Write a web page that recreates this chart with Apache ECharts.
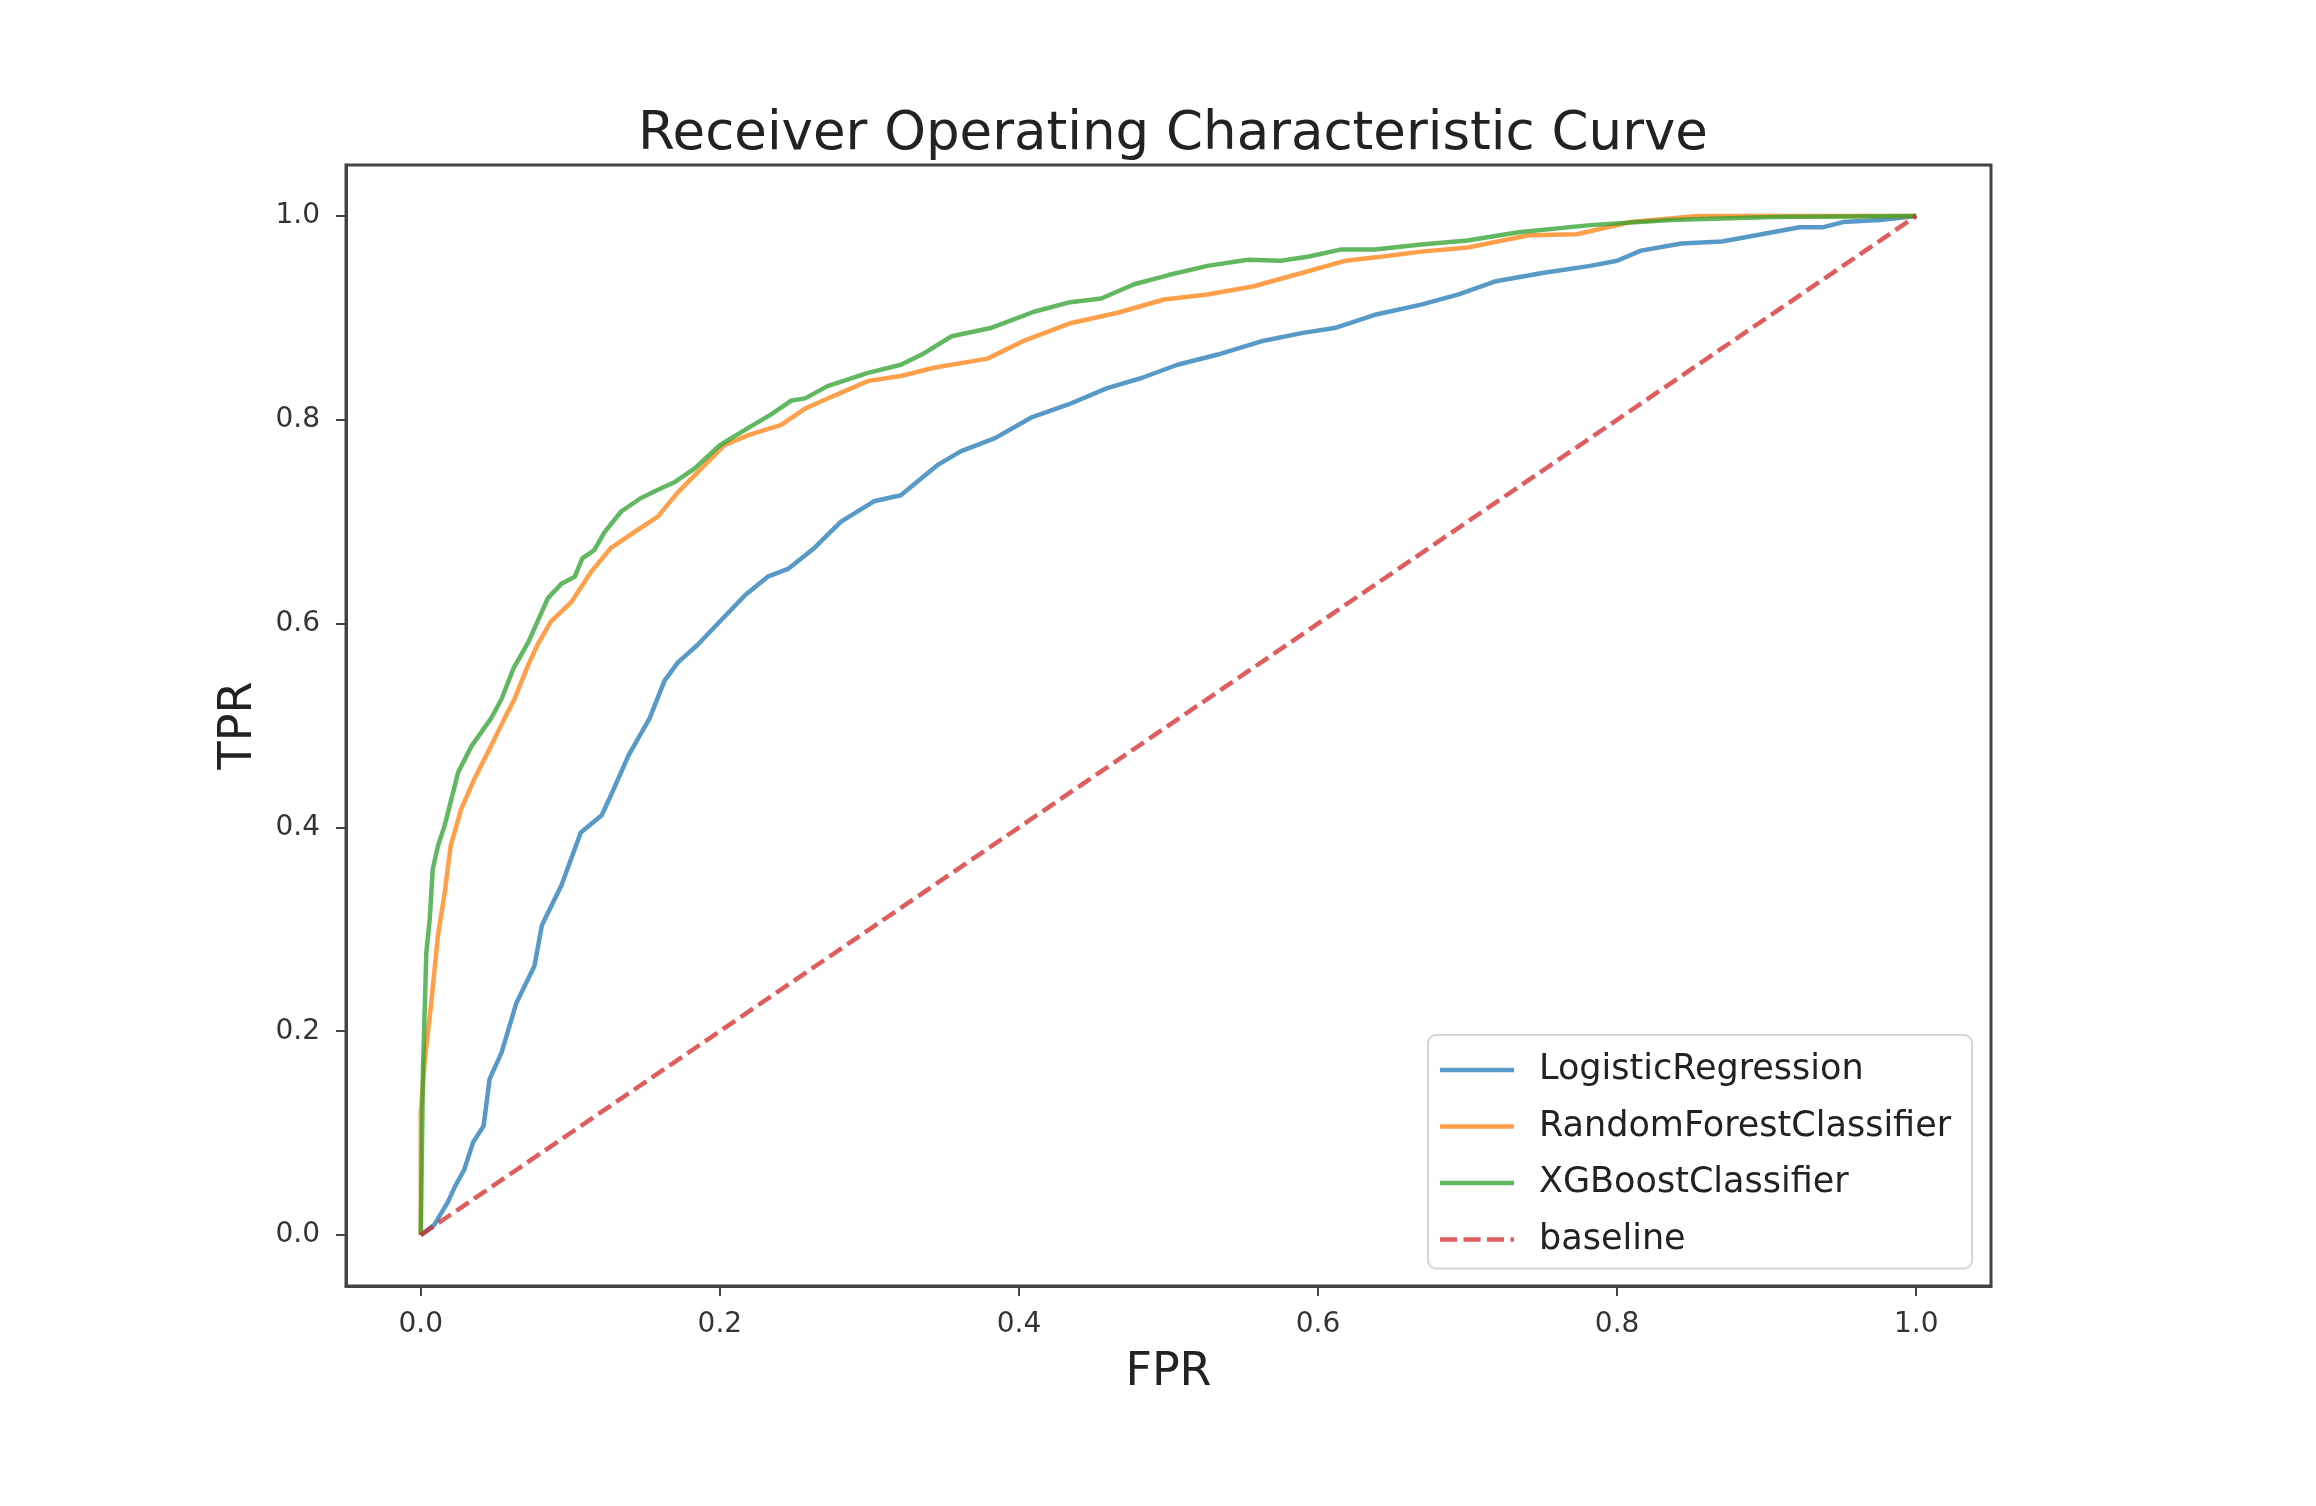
<!DOCTYPE html>
<html>
<head>
<meta charset="utf-8">
<title>ROC curve</title>
<script src="https://cdn.jsdelivr.net/npm/echarts@6/dist/echarts.min.js"></script>
<style>
  html, body { margin: 0; padding: 0; background: #fff; }
  #chart { width: 2316px; height: 1506px; }
</style>
</head>
<body>
<div id="chart"></div>
<script>
// tick positions on both axes
var ticks = [0, 0.2, 0.4, 0.6, 0.8, 1.0];

// [fpr, tpr] points
var logReg = [[0,0],[0.009,0.01],[0.018,0.032],[0.023,0.048],[0.029,0.064],[0.035,0.091],[0.042,0.107],[0.046,0.153],
  [0.054,0.179],[0.064,0.228],[0.076,0.264],[0.081,0.304],[0.094,0.343],[0.107,0.395],[0.121,0.412],[0.127,0.431],
  [0.139,0.471],[0.153,0.507],[0.163,0.544],[0.172,0.562],[0.185,0.579],[0.2,0.602],[0.217,0.628],[0.232,0.646],
  [0.246,0.654],[0.263,0.674],[0.281,0.70],[0.303,0.72],[0.321,0.726],[0.346,0.756],[0.361,0.769],[0.384,0.782],
  [0.408,0.802],[0.433,0.815],[0.459,0.831],[0.482,0.841],[0.506,0.854],[0.533,0.864],[0.562,0.877],[0.589,0.885],
  [0.611,0.89],[0.638,0.903],[0.669,0.913],[0.694,0.923],[0.719,0.936],[0.75,0.944],[0.782,0.951],[0.8,0.956],
  [0.816,0.966],[0.843,0.973],[0.87,0.975],[0.893,0.981],[0.922,0.989],[0.938,0.989],[0.951,0.994],[0.976,0.996],[1,1]];

var randForest = [[0,0],[0,0.12],[0.0025,0.169],[0.007,0.228],[0.0115,0.294],[0.016,0.336],[0.020,0.382],[0.027,0.418],
  [0.036,0.448],[0.047,0.48],[0.056,0.507],[0.0627,0.526],[0.0717,0.559],[0.078,0.579],[0.087,0.602],[0.1006,0.621],
  [0.114,0.651],[0.127,0.674],[0.143,0.69],[0.1585,0.705],[0.172,0.729],[0.1875,0.752],[0.203,0.775],[0.219,0.785],
  [0.241,0.795],[0.257,0.811],[0.277,0.824],[0.299,0.838],[0.321,0.843],[0.343,0.851],[0.379,0.86],[0.404,0.878],
  [0.435,0.895],[0.466,0.905],[0.497,0.918],[0.526,0.923],[0.557,0.931],[0.589,0.944],[0.618,0.956],[0.642,0.96],
  [0.669,0.965],[0.70,0.969],[0.741,0.981],[0.773,0.982],[0.809,0.994],[0.854,1.0],[1,1]];

var xgBoost = [[0,0],[0.0015,0.163],[0.0037,0.277],[0.006,0.31],[0.008,0.359],[0.0115,0.382],[0.016,0.402],[0.025,0.454],
  [0.034,0.48],[0.047,0.507],[0.054,0.526],[0.062,0.556],[0.072,0.582],[0.085,0.625],[0.094,0.639],[0.103,0.646],
  [0.108,0.664],[0.116,0.672],[0.123,0.69],[0.134,0.71],[0.147,0.723],[0.161,0.733],[0.170,0.739],[0.183,0.752],
  [0.2,0.775],[0.219,0.792],[0.234,0.805],[0.248,0.819],[0.257,0.821],[0.272,0.833],[0.299,0.846],[0.321,0.854],
  [0.335,0.864],[0.355,0.882],[0.381,0.89],[0.41,0.906],[0.433,0.915],[0.455,0.919],[0.477,0.933],[0.50,0.942],
  [0.526,0.951],[0.553,0.957],[0.575,0.956],[0.593,0.96],[0.615,0.967],[0.638,0.967],[0.669,0.972],[0.70,0.976],
  [0.734,0.984],[0.782,0.991],[0.836,0.996],[0.904,0.999],[1,1]];

var baseline = [[0,0],[1,1]];

var names = ['LogisticRegression', 'RandomForestClassifier', 'XGBoostClassifier', 'baseline'];
var colors = ['#1f77b4', '#ff7f0e', '#2ca02c', '#d62728'];

var font = 'DejaVu Sans';
var solidIcon = 'path://M0,0h74v4.5h-74z';
var dashIcon = 'path://M0,0h17v4.5h-17z M23.5,0h17v4.5h-17z M47,0h17v4.5h-17z M70.5,0h3.5v4.5h-3.5z';

var myChart = echarts.init(document.getElementById('chart'));

function lineSeries(name, data, color, dashed) {
  return {
    name: name,
    type: 'line',
    data: data,
    symbol: 'none',
    smooth: false,
    color: color,
    lineStyle: { color: color, width: 4.5, opacity: 0.75, type: dashed ? [15, 6.5] : 'solid' },
    z: 3
  };
}

var axisCommon = {
  type: 'value',
  min: -0.05,
  max: 1.05,
  splitLine: { show: false },
  axisLine: { show: true, onZero: false, lineStyle: { color: '#444', width: 3 } },
  axisTick: { show: true, customValues: ticks, length: 10, lineStyle: { color: '#444', width: 2 } },
  nameTextStyle: { fontFamily: font, fontSize: 46, color: '#222' }
};

option = {
  backgroundColor: '#fff',
  animation: false,
  title: {
    text: 'Receiver Operating Characteristic Curve',
    left: 1168,
    textAlign: 'center',
    top: 104,
    textStyle: { fontFamily: font, fontSize: 53, fontWeight: 'normal', color: '#222' }
  },
  grid: {
    left: 346, right: 325, top: 165, bottom: 220,
    show: true, borderColor: '#444', borderWidth: 3, backgroundColor: '#fff'
  },
  legend: {
    data: names.map(function (n, i) {
      return { name: n, icon: i === 3 ? dashIcon : solidIcon, itemStyle: { color: colors[i], opacity: 0.75 } };
    }),
    orient: 'vertical',
    left: 1428,
    top: 1035,
    itemWidth: 74,
    itemHeight: 4.5,
    symbolKeepAspect: false,
    itemGap: 16.5,
    padding: [15, 21, 9, 12],
    backgroundColor: '#fff',
    borderColor: '#d6d6d6',
    borderWidth: 2,
    borderRadius: 8,
    textStyle: { fontFamily: font, fontSize: 35, color: '#222', lineHeight: 40, padding: [0, 0, 0, 20] }
  },
  xAxis: Object.assign({}, axisCommon, {
    name: 'FPR',
    nameLocation: 'middle',
    nameGap: 64,
    axisLabel: { customValues: ticks, margin: 25, fontFamily: font, fontSize: 28, color: '#333',
      formatter: function (v) { return v.toFixed(1); } }
  }),
  yAxis: Object.assign({}, axisCommon, {
    name: 'TPR',
    nameLocation: 'middle',
    nameGap: 84,
    axisLabel: { customValues: ticks, margin: 26, fontFamily: font, fontSize: 28, color: '#333',
      formatter: function (v) { return v.toFixed(1); } }
  }),
  series: [
    lineSeries(names[0], logReg, colors[0], false),
    lineSeries(names[1], randForest, colors[1], false),
    lineSeries(names[2], xgBoost, colors[2], false),
    lineSeries(names[3], baseline, colors[3], true)
  ]
};

myChart.setOption(option);
</script>
</body>
</html>
